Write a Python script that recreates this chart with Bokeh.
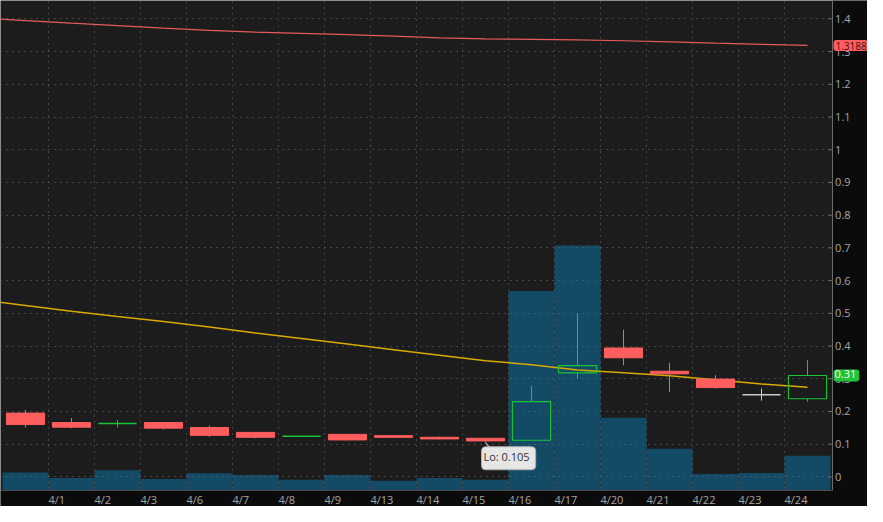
from bokeh.plotting import figure
from bokeh.models import Range1d, FixedTicker, Label, Grid
from bokeh.embed import file_html
from bokeh.resources import INLINE
from bokeh.core.properties import value

# ---------------- data ----------------
dates = ["3/31", "4/1", "4/2", "4/3", "4/6", "4/7", "4/8", "4/9", "4/13", "4/14",
         "4/15", "4/16", "4/17", "4/20", "4/21", "4/22", "4/23", "4/24"]
opens = [0.195, 0.166, 0.163, 0.166, 0.151, 0.136, 0.124, 0.130, 0.126, 0.121,
         0.118, 0.112, 0.318, 0.394, 0.323, 0.299, 0.251, 0.239]
highs = [0.205, 0.180, 0.174, 0.167, 0.157, 0.137, 0.125, 0.131, 0.127, 0.123,
         0.119, 0.278, 0.499, 0.450, 0.349, 0.311, 0.270, 0.357]
lows = [0.151, 0.149, 0.151, 0.145, 0.122, 0.118, 0.123, 0.112, 0.120, 0.115,
        0.105, 0.112, 0.302, 0.341, 0.260, 0.270, 0.233, 0.230]
closes = [0.160, 0.152, 0.163, 0.149, 0.127, 0.121, 0.124, 0.113, 0.121, 0.116,
          0.110, 0.230, 0.340, 0.364, 0.315, 0.273, 0.251, 0.310]
volume = [1870, 1300, 2100, 1200, 1770, 1600, 1100, 1600, 1000, 1300,
          1100, 20600, 25300, 7500, 4300, 1700, 1800, 3600]  # hundreds of shares (approx.)
# moving averages: first value belongs to the prior session (3/30)
ma_slow = [1.4025, 1.3948, 1.3868, 1.3794, 1.3720, 1.3649, 1.3593, 1.3560, 1.3519, 1.3472,
           1.3421, 1.3392, 1.3371, 1.3356, 1.3332, 1.3300, 1.3258, 1.3223, 1.3188]
ma_fast = [0.542, 0.524, 0.506, 0.490, 0.475, 0.458, 0.440, 0.423, 0.406, 0.389,
           0.372, 0.355, 0.343, 0.327, 0.318, 0.309, 0.297, 0.284, 0.274]
price_ticks = [round(k * 0.1, 1) for k in range(15)]
price_labels = [f"{t:g}" for t in price_ticks]
low_label = "Lo: 0.105"

# ---------------- styles / geometry ----------------
BG = "#1c1c1c"
BORDER = "#0b0b0b"
UP = "#19c437"
DOWN = "#ff5e5e"
NEUTRAL = "#c8c8c8"
VOL = "#134b66"
GRID = "#6a6a6a"
AXIS = "#6e6e6e"
TXT = "#a6a6a6"
FONT = "Open Sans"
BODY_W = 0.83

X0, X1 = -0.5435, 18.304        # whole canvas, in slot units
Y0, Y1 = -0.0905, 1.4562        # whole canvas, in price units
AXIS_X = 17.543                 # right price-axis line
BAND_Y = -0.0416                # top of the date band
DATE_Y = -0.069
LABEL_X = 17.60
BADGE_X = 17.565
TICK_DX = 4 / 46
TICK_DY = 4 / 327

n = len(dates)
xs = list(range(n))
ma_x = list(range(-1, n))

p = figure(width=867, height=506,
           x_range=Range1d(X0, X1), y_range=Range1d(Y0, Y1),
           x_axis_location=None, y_axis_location=None,
           output_backend="svg", toolbar_location=None,
           min_border=0, min_border_left=0, min_border_right=0,
           min_border_top=0, min_border_bottom=0,
           background_fill_color=BG, border_fill_color=BORDER,
           outline_line_color=None)
p.extra_y_ranges = {"vol": Range1d(-1652, 50600)}

# dotted grids (replace the default ones)
p.center = [r for r in p.center if not isinstance(r, Grid)]
p.add_layout(Grid(dimension=0, ticker=FixedTicker(ticks=[i - 0.5 for i in range(1, n)]),
                  grid_line_color=GRID, grid_line_dash="1 5"))
p.add_layout(Grid(dimension=1, ticker=FixedTicker(ticks=price_ticks),
                  grid_line_color=GRID, grid_line_dash="1 5"))

# volume histogram (under the grid)
vb = p.vbar(x=xs, top=volume, bottom=0, width=1.0, y_range_name="vol",
            fill_color=VOL, line_color=None)
vb.level = "image"

# moving averages
p.line(ma_x, ma_slow, line_color="#e85a5a", line_width=1.2)
p.line(ma_x, ma_fast, line_color="#d9aa00", line_width=1.5)

# candles
up_x, up_t, up_b = [], [], []
dn_x, dn_t, dn_b = [], [], []
dj_x, dj_y, dj_c = [], [], []
wk_x, wk_y0, wk_y1, wk_c = [], [], [], []
for i in xs:
    o, h, l, c = opens[i], highs[i], lows[i], closes[i]
    top, bot = max(o, c), min(o, c)
    if c > o:
        col = UP
        up_x.append(i); up_t.append(top); up_b.append(bot)
    elif c < o:
        col = DOWN
        dn_x.append(i); dn_t.append(top); dn_b.append(bot)
    else:
        col = UP if (i > 0 and c > closes[i - 1]) else NEUTRAL
        dj_x.append(i); dj_y.append(c); dj_c.append(col)
    if h > top:
        wk_x.append(i); wk_y0.append(top); wk_y1.append(h); wk_c.append(col)
    if l < bot:
        wk_x.append(i); wk_y0.append(bot); wk_y1.append(l); wk_c.append(col)

p.segment(x0=wk_x, y0=wk_y0, x1=wk_x, y1=wk_y1, line_color=wk_c, line_width=1)
p.vbar(x=dn_x, top=dn_t, bottom=dn_b, width=BODY_W, fill_color=DOWN, line_color=DOWN, line_width=1)
p.vbar(x=up_x, top=up_t, bottom=up_b, width=BODY_W, fill_alpha=0, line_color=UP, line_width=1.1)
p.segment(x0=[x - BODY_W / 2 for x in dj_x], y0=dj_y, x1=[x + BODY_W / 2 for x in dj_x], y1=dj_y,
          line_color=dj_c, line_width=1.5)

# axis bands (right price scale, bottom date scale)
p.quad(left=[AXIS_X], right=[X1], bottom=[Y0], top=[Y1], fill_color=BORDER, line_color=None)
p.quad(left=[X0], right=[X1], bottom=[Y0], top=[BAND_Y], fill_color=BORDER, line_color=None)
p.segment(x0=[AXIS_X], y0=[BAND_Y], x1=[AXIS_X], y1=[Y1], line_color=AXIS, line_width=1)
p.segment(x0=[X0], y0=[BAND_Y], x1=[AXIS_X], y1=[BAND_Y], line_color="#4a4a4a", line_width=1)

# price ticks and labels
p.segment(x0=[AXIS_X - TICK_DX] * len(price_ticks), y0=price_ticks,
          x1=[AXIS_X] * len(price_ticks), y1=price_ticks, line_color=AXIS, line_width=1)
p.text(x=[LABEL_X] * len(price_ticks), y=price_ticks, text=price_labels,
       text_align="left", text_baseline="middle", text_color=TXT,
       text_font=value(FONT), text_font_size="11px")

# date ticks and labels
edges = [i - 0.5 for i in range(1, n)]
p.segment(x0=edges, y0=[BAND_Y] * len(edges), x1=edges, y1=[BAND_Y + TICK_DY] * len(edges),
          line_color="#4a4a4a", line_width=1)
p.text(x=edges, y=[DATE_Y] * len(edges), text=dates[1:],
       text_align="left", text_baseline="middle", text_color=TXT,
       text_font=value(FONT), text_font_size="11px")

# low callout
lo_i = lows.index(min(lows))
p.segment(x0=[lo_i], y0=[lows[lo_i]], x1=[lo_i + 0.145], y1=[lows[lo_i] - 0.023],
          line_color="#bdbdbd", line_width=1.2)
p.add_layout(Label(x=lo_i - 0.087, y=lows[lo_i] - 0.048, text=low_label,
                   text_align="left", text_baseline="middle",
                   text_font=FONT, text_font_size="11px", text_color="#333333",
                   background_fill_color="#e6e6e6", border_line_color="#b0b0b0",
                   border_radius=4, padding=(2, 6, 2, 6)))

# price badges on the axis
p.add_layout(Label(x=BADGE_X, y=ma_slow[-1], text=f"{ma_slow[-1]:.4f}",
                   text_align="left", text_baseline="middle",
                   text_font=FONT, text_font_size="10px", text_color="#4a0c0c",
                   background_fill_color=DOWN, border_radius=3, padding=(2, 1, 2, 1)))
p.add_layout(Label(x=BADGE_X, y=closes[-1], text=f"{closes[-1]:.2f}",
                   text_align="left", text_baseline="middle",
                   text_font=FONT, text_font_size="11px", text_color="#ffffff",
                   background_fill_color="#1ec537", border_radius=3, padding=(1, 3, 1, 3)))

open("out.html", "w").write(file_html(p, INLINE))
